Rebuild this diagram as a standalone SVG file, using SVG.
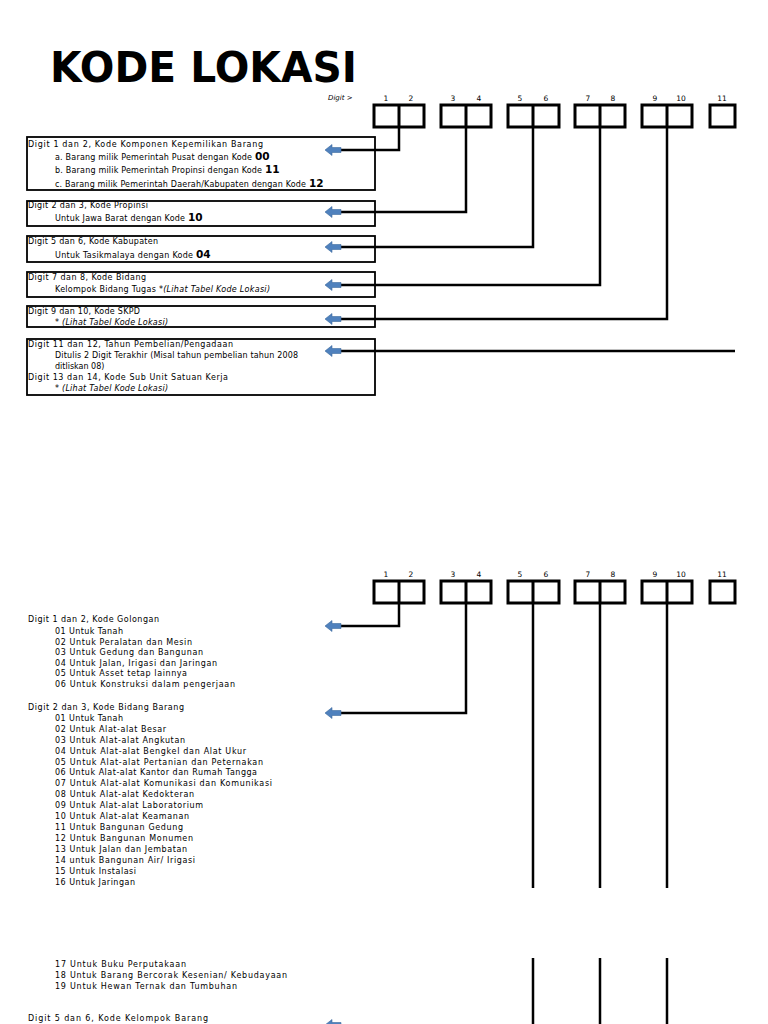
<svg xmlns="http://www.w3.org/2000/svg" width="768" height="1024" viewBox="0 0 768 1024">
<style>
.t{font-family:"DejaVu Sans","Liberation Sans",sans-serif;font-size:8px;fill:#000}
.n{font-family:"DejaVu Sans","Liberation Sans",sans-serif;font-size:10.5px;font-weight:bold;fill:#000}
.i{font-style:italic}
.d{font-family:"DejaVu Sans","Liberation Sans",sans-serif;font-size:7.5px;fill:#000;text-anchor:middle}
.box{fill:none;stroke:#000;stroke-width:1.8}
.dig{fill:none;stroke:#000;stroke-width:3}
.con{fill:none;stroke:#000;stroke-width:2.5}
</style>
<defs>
<path id="arr" d="M-8,0 L-1,-5.5 L-1,-2.5 L8,-2.5 L8,2.5 L-1,2.5 L-1,5.5 Z" fill="#4f81bd" stroke="#3c6a9e" stroke-width="0.6"/>
<g id="digits">
<rect class="dig" x="374" y="105" width="50" height="22"/><line class="dig" x1="399" y1="105" x2="399" y2="127"/>
<rect class="dig" x="441" y="105" width="50" height="22"/><line class="dig" x1="466" y1="105" x2="466" y2="127"/>
<rect class="dig" x="508" y="105" width="51" height="22"/><line class="dig" x1="533" y1="105" x2="533" y2="127"/>
<rect class="dig" x="575" y="105" width="50" height="22"/><line class="dig" x1="600" y1="105" x2="600" y2="127"/>
<rect class="dig" x="642" y="105" width="50" height="22"/><line class="dig" x1="667" y1="105" x2="667" y2="127"/>
<rect class="dig" x="710" y="105" width="25" height="22"/>
<text class="d" x="386" y="101">1</text><text class="d" x="411" y="101">2</text>
<text class="d" x="453" y="101">3</text><text class="d" x="479" y="101">4</text>
<text class="d" x="520" y="101">5</text><text class="d" x="546" y="101">6</text>
<text class="d" x="588" y="101">7</text><text class="d" x="613" y="101">8</text>
<text class="d" x="655" y="101">9</text><text class="d" x="681" y="101">10</text>
<text class="d" x="722" y="101">11</text>
</g>
</defs>

<g id="title"><text x="50" y="82" font-family="DejaVu Sans, Liberation Sans, sans-serif" font-size="43" font-weight="bold" textLength="307" lengthAdjust="spacingAndGlyphs">KODE LOKASI</text></g>
<g id="digit-label"><text x="328" y="100" class="t i" style="font-size:7px">Digit &gt;</text></g>

<g id="digits-top"><use href="#digits"/></g>
<g id="digits-bottom"><use href="#digits" transform="translate(0,476)"/></g>

<g id="connectors">
<path class="con" d="M399,127 V150 H341"/>
<path class="con" d="M466,127 V212 H341"/>
<path class="con" d="M533,127 V247 H341"/>
<path class="con" d="M600,127 V285 H341"/>
<path class="con" d="M667,127 V319 H341"/>
<path class="con" d="M341,351 H735"/>
<path class="con" d="M399,603 V626 H341"/>
<path class="con" d="M466,603 V713 H341"/>
<path class="con" d="M533,603 V888 M600,603 V888 M667,603 V888"/>
<path class="con" d="M533,958 V1024 M600,958 V1024 M667,958 V1024"/>
<use href="#arr" x="333" y="150"/>
<use href="#arr" x="333" y="212"/>
<use href="#arr" x="333" y="247"/>
<use href="#arr" x="333" y="285"/>
<use href="#arr" x="333" y="319"/>
<use href="#arr" x="333" y="351"/>
<use href="#arr" x="333" y="626"/>
<use href="#arr" x="333" y="713"/>
<use href="#arr" x="333" y="1025"/>
</g>

<g id="box1">
<rect class="box" x="27" y="137" width="348" height="53"/>
<text class="t" x="28" y="147" textLength="235">Digit 1 dan 2, Kode Komponen Kepemilikan Barang</text>
<text class="t" x="55" y="160" textLength="197">a. Barang milik Pemerintah Pusat dengan Kode</text><text class="n" x="255" y="160">00</text>
<text class="t" x="55" y="173" textLength="207">b. Barang milik Pemerintah Propinsi dengan Kode</text><text class="n" x="265" y="173">11</text>
<text class="t" x="55" y="187" textLength="251">c. Barang milik Pemerintah Daerah/Kabupaten dengan Kode</text><text class="n" x="309" y="187">12</text>
</g>
<g id="box2">
<rect class="box" x="27" y="201" width="348" height="25"/>
<text class="t" x="28" y="208" textLength="120">Digit 2 dan 3, Kode Propinsi</text>
<text class="t" x="55" y="221" textLength="130">Untuk Jawa Barat dengan Kode</text><text class="n" x="188" y="221">10</text>
</g>
<g id="box3">
<rect class="box" x="27" y="236" width="348" height="26"/>
<text class="t" x="28" y="244" textLength="130">Digit 5 dan 6, Kode Kabupaten</text>
<text class="t" x="55" y="258" textLength="138">Untuk Tasikmalaya dengan Kode</text><text class="n" x="196" y="258">04</text>
</g>
<g id="box4">
<rect class="box" x="27" y="272" width="348" height="25"/>
<text class="t" x="28" y="280" textLength="118">Digit 7 dan 8, Kode Bidang</text>
<text class="t" x="55" y="292" textLength="215">Kelompok Bidang Tugas *<tspan class="i">(Lihat Tabel Kode Lokasi)</tspan></text>
</g>
<g id="box5">
<rect class="box" x="27" y="306" width="348" height="21"/>
<text class="t" x="28" y="314" textLength="112">Digit 9 dan 10, Kode SKPD</text>
<text class="t" x="55" y="325" textLength="113">* <tspan class="i">(Lihat Tabel Kode Lokasi)</tspan></text>
</g>
<g id="box6">
<rect class="box" x="27" y="339" width="348" height="56"/>
<text class="t" x="28" y="347" textLength="205">Digit 11 dan 12, Tahun Pembelian/Pengadaan</text>
<text class="t" x="55" y="358" textLength="243">Ditulis 2 Digit Terakhir (Misal tahun pembelian tahun 2008</text>
<text class="t" x="55" y="369">ditliskan 08)</text>
<text class="t" x="28" y="380" textLength="200">Digit 13 dan 14, Kode Sub Unit Satuan Kerja</text>
<text class="t" x="55" y="391" textLength="113">* <tspan class="i">(Lihat Tabel Kode Lokasi)</tspan></text>
</g>

<g id="golongan">
<text class="t" x="28" y="622" textLength="131">Digit 1 dan 2, Kode Golongan</text>
<text class="t" x="55" y="634" textLength="68">01 Untuk Tanah</text>
<text class="t" x="55" y="645" textLength="137">02 Untuk Peralatan dan Mesin</text>
<text class="t" x="55" y="655" textLength="148">03 Untuk Gedung dan Bangunan</text>
<text class="t" x="55" y="666" textLength="162">04 Untuk Jalan, Irigasi dan Jaringan</text>
<text class="t" x="55" y="676" textLength="132">05 Untuk Asset tetap lainnya</text>
<text class="t" x="55" y="687" textLength="180">06 Untuk Konstruksi dalam pengerjaan</text>
</g>
<g id="bidang">
<text class="t" x="28" y="710" textLength="156">Digit 2 dan 3, Kode Bidang Barang</text>
<text class="t" x="55" y="721" textLength="68">01 Untuk Tanah</text>
<text class="t" x="55" y="732" textLength="111">02 Untuk Alat-alat Besar</text>
<text class="t" x="55" y="743" textLength="130">03 Untuk Alat-alat Angkutan</text>
<text class="t" x="55" y="754" textLength="191">04 Untuk Alat-alat Bengkel dan Alat Ukur</text>
<text class="t" x="55" y="765" textLength="208">05 Untuk Alat-alat Pertanian dan Peternakan</text>
<text class="t" x="55" y="775" textLength="202">06 Untuk Alat-alat Kantor dan Rumah Tangga</text>
<text class="t" x="55" y="786" textLength="217">07 Untuk Alat-alat Komunikasi dan Komunikasi</text>
<text class="t" x="55" y="797" textLength="139">08 Untuk Alat-alat Kedokteran</text>
<text class="t" x="55" y="808" textLength="148">09 Untuk Alat-alat Laboratorium</text>
<text class="t" x="55" y="819" textLength="134">10 Untuk Alat-alat Keamanan</text>
<text class="t" x="55" y="830" textLength="128">11 Untuk Bangunan Gedung</text>
<text class="t" x="55" y="841" textLength="138">12 Untuk Bangunan Monumen</text>
<text class="t" x="55" y="852" textLength="132">13 Untuk Jalan dan Jembatan</text>
<text class="t" x="55" y="863" textLength="140">14 untuk Bangunan Air/ Irigasi</text>
<text class="t" x="55" y="874" textLength="81">15 Untuk Instalasi</text>
<text class="t" x="55" y="885" textLength="80">16 Untuk Jaringan</text>
<text class="t" x="55" y="967" textLength="131">17 Untuk Buku Perputakaan</text>
<text class="t" x="55" y="978" textLength="232">18 Untuk Barang Bercorak Kesenian/ Kebudayaan</text>
<text class="t" x="55" y="989" textLength="182">19 Untuk Hewan Ternak dan Tumbuhan</text>
</g>
<g id="kelompok">
<text class="t" x="28" y="1021" textLength="180">Digit 5 dan 6, Kode Kelompok Barang</text>
</g>
</svg>
